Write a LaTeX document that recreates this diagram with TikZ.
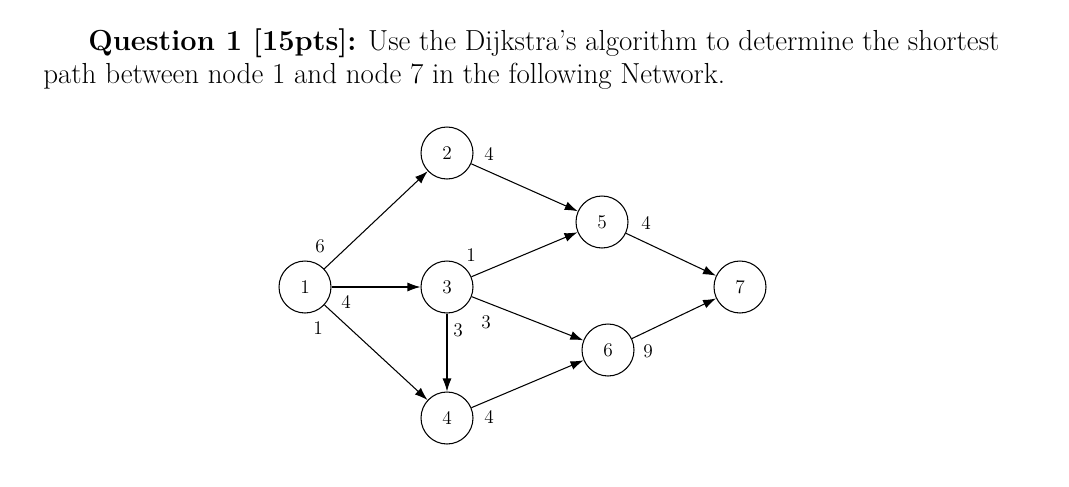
\documentclass[tikz,border=0pt]{standalone}
\usepackage{tikz}
\usetikzlibrary{arrows.meta}

\tikzset{
    vertex/.style={circle, draw, semithick, minimum size=1.04cm, inner sep=0pt, font=\fontsize{11}{12}\selectfont},
    wt/.style={inner sep=0pt, font=\fontsize{11}{12}\selectfont},
    edge/.style={-{Latex[length=2.6mm,width=1.8mm]}, semithick}
}

\begin{document}
\begin{tikzpicture}[x=0.02cm, y=-0.02cm]
        \useasboundingbox (0,0) rectangle (1069,487);

        % question text
        \node[anchor=base west, inner sep=0pt, font=\fontsize{16.5}{19}\selectfont] (line1) at (88,50)
            {\textbf{Question 1 [15pts]:} Use the Dijkstra's algorithm to determine the shortest};
        \node[anchor=base west, inner sep=0pt, font=\fontsize{16.5}{19}\selectfont] (line2) at (43,83)
            {path between node 1 and node 7 in the following Network.};

        % nodes
        \node[vertex] (n1) at (305,287) {1};
        \node[vertex] (n2) at (447,153) {2};
        \node[vertex] (n3) at (447,287) {3};
        \node[vertex] (n4) at (447,418) {4};
        \node[vertex] (n5) at (602,222) {5};
        \node[vertex] (n6) at (608,350) {6};
        \node[vertex] (n7) at (740,287) {7};

        % arcs
        \draw[edge] (n1) -- (n2);
        \draw[edge] (n1) -- (n3);
        \draw[edge] (n1) -- (n4);
        \draw[edge] (n2) -- (n5);
        \draw[edge] (n3) -- (n5);
        \draw[edge] (n3) -- (n6);
        \draw[edge] (n3) -- (n4);
        \draw[edge] (n4) -- (n6);
        \draw[edge] (n5) -- (n7);
        \draw[edge] (n6) -- (n7);

        % weights
        \node[wt] (w12) at (320,246) {6};
        \node[wt] (w13) at (346,302) {4};
        \node[wt] (w14) at (318,328) {1};
        \node[wt] (w25) at (489,154) {4};
        \node[wt] (w35) at (471,255) {1};
        \node[wt] (w34) at (458,330) {3};
        \node[wt] (w36) at (486,322) {3};
        \node[wt] (w57) at (646,223) {4};
        \node[wt] (w67) at (648,351) {9};
        \node[wt] (w46) at (489,417) {4};
\end{tikzpicture}
\end{document}
